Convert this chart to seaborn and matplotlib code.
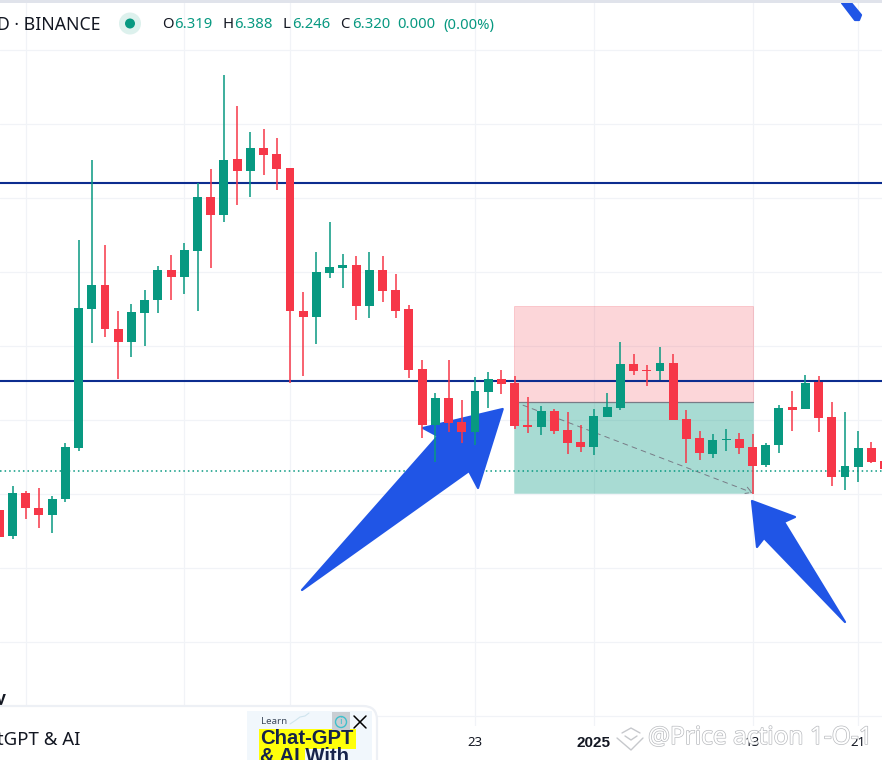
import matplotlib
matplotlib.use("Agg")
import matplotlib.pyplot as plt
import matplotlib.patheffects as pe
import matplotlib.transforms as mtransforms
from matplotlib.colors import to_rgba
from matplotlib.patches import Rectangle, FancyBboxPatch, Polygon, Circle
import pandas as pd
import seaborn as sns

# ==============================
# DATA
# ==============================

days = list(range(-1, 67))
opens = [5.79, 5.43, 6.02, 5.81, 5.72, 5.93, 6.63, 8.51, 8.83, 8.23, 8.06, 8.45, 8.62, 9.03, 8.94, 9.29, 10.02, 9.78,
         10.53, 10.37, 10.68, 10.60, 10.41, 8.48, 8.40, 8.99, 9.06, 9.10, 8.54, 9.03, 8.76, 8.50, 7.69, 6.94, 7.30,
         6.98, 6.84, 7.38, 7.56, 7.50, 6.94, 6.91, 7.13, 6.87, 6.71, 6.64, 7.04, 7.17, 7.76, 7.68, 7.67, 7.77, 7.02,
         6.76, 6.54, 6.73, 6.75, 6.64, 6.40, 6.67, 7.18, 7.15, 7.52, 7.04, 6.23, 6.37, 6.63, 6.45]
highs = [5.90, 6.11, 6.04, 6.09, 5.98, 6.69, 9.44, 10.52, 9.37, 8.48, 8.57, 8.76, 9.09, 9.23, 9.40, 10.21, 10.40,
         11.67, 11.25, 10.90, 10.94, 10.81, 10.41, 8.73, 9.27, 9.68, 9.25, 9.22, 9.27, 9.22, 8.98, 8.56, 7.81, 7.37,
         7.81, 7.27, 7.59, 7.65, 7.68, 7.60, 7.31, 7.19, 7.15, 7.11, 6.94, 7.15, 7.37, 8.06, 7.90, 7.75, 7.99, 7.90,
         7.14, 6.86, 6.81, 6.88, 6.83, 6.81, 6.69, 7.21, 7.40, 7.61, 7.60, 7.25, 7.11, 6.86, 6.71, 6.50]
lows = [5.38, 5.40, 5.67, 5.54, 5.48, 5.89, 6.59, 8.05, 8.12, 7.56, 7.86, 8.01, 8.45, 8.62, 8.71, 8.47, 9.06, 9.68,
        9.91, 10.02, 10.31, 10.11, 7.51, 7.60, 8.03, 8.92, 8.79, 8.36, 8.38, 8.60, 8.38, 7.57, 6.76, 6.44, 6.84, 6.69,
        6.67, 7.17, 7.36, 6.88, 6.83, 6.80, 6.81, 6.54, 6.57, 6.53, 7.04, 7.14, 7.61, 7.46, 7.54, 7.00, 6.42, 6.46,
        6.49, 6.59, 6.54, 6.00, 6.37, 6.56, 6.86, 7.15, 6.84, 6.11, 6.06, 6.17, 6.42, 6.32]
closes = [5.42, 6.02, 5.81, 5.72, 5.94, 6.64, 8.52, 8.83, 8.24, 8.06, 8.46, 8.63, 9.03, 8.94, 9.30, 10.02, 9.78, 10.52,
          10.37, 10.68, 10.59, 10.40, 8.47, 8.40, 9.00, 9.07, 9.10, 8.54, 9.03, 8.75, 8.48, 7.68, 6.94, 7.30, 6.96,
          6.84, 7.40, 7.56, 7.49, 6.92, 6.91, 7.13, 6.86, 6.69, 6.64, 7.06, 7.18, 7.76, 7.67, 7.67, 7.77, 7.00, 6.75,
          6.56, 6.73, 6.75, 6.63, 6.38, 6.67, 7.17, 7.14, 7.50, 7.03, 6.23, 6.38, 6.63, 6.44, 6.34]

resistance_levels = [10.21, 7.53]
last_price = 6.32
entry_price = 7.25
stop_price = 8.54
target_price = 6.02
position_days = [37.95, 56]

grid_days = [1, 13, 21, 35, 44, 56, 64]
grid_prices = [3, 4, 5, 6, 7, 8, 9, 10, 11, 12]
tick_days = [35, 44, 56, 64]
tick_labels = ["23", "2025", "13", "21"]

# hand drawn overlays, in screen pixels
arrow_left = [(502.7, 409), (423, 428), (438, 436), (302, 590), (469, 471), (478, 488)]
arrow_right = [(752, 501), (795, 517), (784, 522), (845, 622), (764, 538), (757, 547)]
arrow_top = [(842, 3), (851, 3), (861, 15), (859, 20), (855, 20)]

header_parts = [("O", 162, "#131722"), ("6.319", 174, "#089981"), ("H", 222, "#131722"), ("6.388", 234, "#089981"),
                ("L", 282, "#131722"), ("6.246", 292, "#089981"), ("C", 340, "#131722"), ("6.320", 352, "#089981"),
                ("0.000", 397, "#089981"), ("(0.00%)", 443, "#089981")]

GREEN = "#089981"
RED = "#F63748"
NAVY = "#0C2D8F"
ARROW_BLUE = "#2055E6"
GRID = "#F1F3F7"
INK = "#131722"
BOLD_FONT = ["Liberation Sans", "DejaVu Sans"]

# ==============================
# FIGURE
# ==============================

sns.set_theme(style="white")
plt.rcParams["font.family"] = ["Noto Sans", "DejaVu Sans"]

fig = plt.figure(figsize=(8.82, 7.6), dpi=100)
ax = fig.add_axes([0, 0, 1, 1])
ax.set_axisbelow(True)

# screen pixels, origin top left
px = mtransforms.Affine2D().scale(1 / 882, -1 / 760).translate(0, 1) + fig.transFigure

# ==============================
# CANDLES
# ==============================

candles = pd.DataFrame({"day": days, "open": opens, "high": highs, "low": lows, "close": closes})
candles["top"] = candles[["open", "close"]].max(axis=1)
candles["bottom"] = candles[["open", "close"]].min(axis=1)
candles["body"] = candles["top"] - candles["bottom"]

for rising, color in [(True, GREEN), (False, RED)]:
    part = candles[(candles["close"] >= candles["open"]) == rising]
    wicks = part.melt(id_vars="day", value_vars=["high", "low"], value_name="price")
    sns.lineplot(data=wicks, x="day", y="price", units="day", estimator=None, color=color,
                 linewidth=1.1, legend=False, ax=ax, zorder=3, solid_capstyle="butt")
    sns.barplot(data=part, x="day", y="body", bottom=part["bottom"].to_numpy(), native_scale=True,
                width=0.68, color=color, saturation=1, errorbar=None, linewidth=0, ax=ax, zorder=3)

ax.set_xlim(-0.946, 65.8)
ax.set_ylim(2.408, 12.68)
ax.set_xticks(grid_days)
ax.set_yticks(grid_prices)
ax.set_xticklabels([])
ax.set_yticklabels([])
ax.set_xlabel("")
ax.set_ylabel("")
ax.grid(True, color=GRID, linewidth=0.85)
ax.tick_params(length=0)
sns.despine(ax=ax, left=True, bottom=True)

# ==============================
# LEVELS AND POSITION TOOL
# ==============================

for level in resistance_levels:
    ax.axhline(level, color=NAVY, linewidth=1.5, zorder=2)
ax.axhline(last_price, color=GREEN, linewidth=1.1, linestyle=(0, (1, 2)), zorder=2)

left, right = position_days
ax.add_patch(Rectangle((left, entry_price), right - left, stop_price - entry_price,
                       facecolor=to_rgba("#F23645", 0.2), edgecolor=to_rgba("#F23645", 0.2), linewidth=0.7, zorder=1))
ax.add_patch(Rectangle((left, target_price), right - left, entry_price - target_price,
                       facecolor=to_rgba(GREEN, 0.35), edgecolor=to_rgba(GREEN, 0.1), linewidth=0.7, zorder=1))
ax.plot(position_days, [entry_price, entry_price], color="#787B86", linewidth=0.9, zorder=1.5)
ax.annotate("", xy=(right, target_price), xytext=(left, entry_price), zorder=1.8,
            arrowprops=dict(arrowstyle="->,head_length=0.35,head_width=0.2", color="#787B86", linewidth=0.7,
                            linestyle=(0, (5, 5)), shrinkA=0, shrinkB=0))

# ==============================
# BLUE ARROWS
# ==============================

for shape in [arrow_left, arrow_right, arrow_top]:
    ax.add_patch(Polygon(shape, closed=True, transform=px, facecolor=ARROW_BLUE, edgecolor=ARROW_BLUE,
                         linewidth=1.6, joinstyle="round", zorder=2.4, clip_on=False))

# ==============================
# HEADER
# ==============================

ax.add_patch(Rectangle((0, 0), 882, 3, transform=px, facecolor="#E0E3EB", linewidth=0, zorder=5))
ax.text(-3, 25, "D · BINANCE", transform=px, color=INK, fontsize=12.7, va="center", ha="left", zorder=6)
ax.add_patch(Circle((130, 23.5), 11, transform=px, facecolor="#DDF1ED", linewidth=0, zorder=6))
ax.add_patch(Circle((130, 23.5), 5, transform=px, facecolor=GREEN, linewidth=0, zorder=6))
for label, x, color in header_parts:
    ax.text(x, 25, label, transform=px, color=color, fontsize=10.7, va="center", ha="left", zorder=6)

# ==============================
# BOTTOM STRIP
# ==============================

ax.text(-4, 699, "y", transform=px, color=INK, fontsize=13, fontweight="bold", family=BOLD_FONT, va="center",
        ha="left", zorder=3)
ax.add_patch(Rectangle((0, 726), 882, 34, transform=px, facecolor="white", linewidth=0, zorder=4))
ax.add_patch(FancyBboxPatch((-30, 706), 407, 80, boxstyle="round,pad=0,rounding_size=14", transform=px,
                            facecolor="white", edgecolor="#EDF0F5", linewidth=1.6, zorder=4.2))
ax.text(-3, 740, "tGPT & AI", transform=px, color=INK, fontsize=13.4, va="center", ha="left", zorder=6)

for day, label in zip(tick_days, tick_labels):
    is_year = label == "2025"
    ax.text(day, 1 - 743 / 760, label, transform=ax.get_xaxis_transform(), color=INK, ha="center", va="center",
            fontsize=11 if is_year else 9.5, fontweight="bold" if is_year else "normal",
            family=BOLD_FONT if is_year else None, zorder=6)

# ad box
ax.add_patch(Rectangle((247, 711), 125, 60, transform=px, facecolor="#F1F7FC", linewidth=0, zorder=5))
ax.add_patch(Rectangle((259, 729), 97, 20, transform=px, facecolor="#FFFF0A", linewidth=0, zorder=5.1))
ax.add_patch(Rectangle((259, 749), 46, 14, transform=px, facecolor="#FFFF0A", linewidth=0, zorder=5.1))
ax.text(261, 722, "Learn", transform=px, color="#3E4A5C", fontsize=7, va="center", zorder=6)
ax.plot([290, 296, 300, 305, 309], [724, 720, 717, 716, 713], transform=px, color="#CFE4EE", linewidth=0.8, zorder=5.2)
ax.text(260, 739, "Chat-GPT", transform=px, color="#16234B", fontsize=14.6, fontweight="bold", family=BOLD_FONT,
        va="center", zorder=6)
ax.text(260, 756, "& AI With", transform=px, color="#16234B", fontsize=14.6, fontweight="bold", family=BOLD_FONT,
        va="center", zorder=6)
ax.add_patch(Rectangle((332, 712), 18, 19, transform=px, facecolor="#C9CED3", linewidth=0, zorder=5.3))
ax.add_patch(Circle((341, 722), 5.5, transform=px, facecolor="none", edgecolor="#3FC0CC", linewidth=1, zorder=5.4))
ax.text(341, 722, "i", transform=px, color="#3FC0CC", fontsize=7, ha="center", va="center", zorder=5.5)
ax.plot([354, 366], [716, 728], transform=px, color="black", linewidth=1.1, zorder=6)
ax.plot([354, 366], [728, 716], transform=px, color="black", linewidth=1.1, zorder=6)

# ==============================
# WATERMARK
# ==============================

outline = [pe.withStroke(linewidth=1.0, foreground="#B9BBBF")]
ax.text(648, 738, "@Price action 1-O-1", transform=px, color="white", fontsize=17.6, va="center", ha="left",
        zorder=7, path_effects=outline)
logo_color = "#C6C8CC"
ax.plot([622, 631, 640], [733, 728, 733], transform=px, color=logo_color, linewidth=1.0, zorder=7)
ax.plot([625, 631, 637], [736, 740, 736], transform=px, color=logo_color, linewidth=1.0, zorder=7)
ax.plot([617, 631, 643], [738, 750, 738], transform=px, color=logo_color, linewidth=1.0, zorder=7)

fig.savefig("out.png", dpi=100)
